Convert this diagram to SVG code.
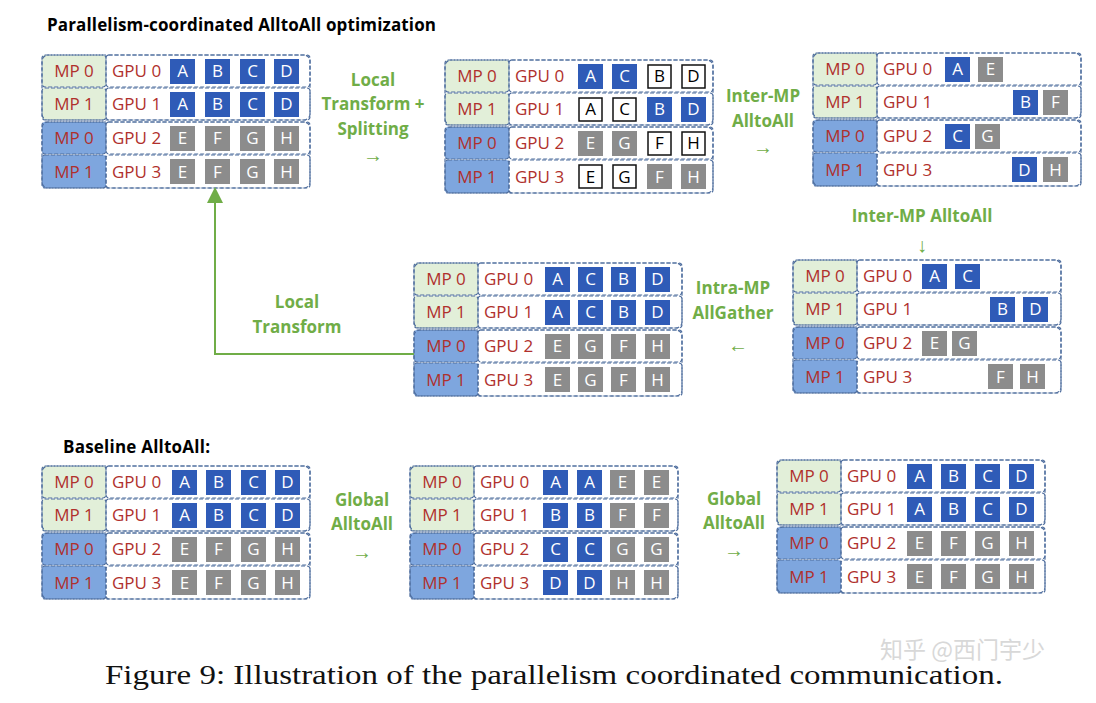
<svg xmlns="http://www.w3.org/2000/svg" xmlns:xlink="http://www.w3.org/1999/xlink" width="1096" height="703" viewBox="0 0 1096 703">
<style>
text{font-family:"Open Sans","Liberation Sans",sans-serif}
.mp{font-size:17px;fill:#B0302C;text-anchor:middle}
.gpu{font-size:17px;fill:#B0302C}
.dash{fill:none;stroke:#4F6E9E;stroke-width:1.2;stroke-dasharray:4 2}
.b{fill:#2F5BB7;width:25px;height:25px}
.g{fill:#8C8C8C;width:25px;height:25px}
.w{fill:#fff;stroke:#111;stroke-width:1.5;width:23px;height:23px}
.t{font-size:17px;fill:#fff;text-anchor:middle}
.k{font-size:17px;fill:#000;text-anchor:middle}
.lab{font-size:17px;font-weight:bold;fill:#70AD47;text-anchor:middle}
.arr{font-size:20px;font-weight:bold;fill:#70AD47;text-anchor:middle}
.ttl{font-size:17px;font-weight:bold;fill:#000}
</style>
<defs>
<g id="panel">
<rect x="0" y="0" width="64" height="32" rx="3" fill="#E2EFD9"/>
<rect x="0" y="33" width="64" height="32" rx="3" fill="#E2EFD9"/>
<rect x="0" y="67" width="64" height="32" rx="3" fill="#7EA6DE"/>
<rect x="0" y="100" width="64" height="33" rx="3" fill="#7EA6DE"/>
<rect x="0" y="0" width="64" height="32" rx="3" class="dash"/>
<rect x="0" y="33" width="64" height="32" rx="3" class="dash"/>
<rect x="0" y="67" width="64" height="32" rx="3" class="dash"/>
<rect x="0" y="100" width="64" height="33" rx="3" class="dash"/>
<rect x="64" y="0" width="204" height="32" rx="3" class="dash"/>
<rect x="64" y="33" width="204" height="32" rx="3" class="dash"/>
<rect x="64" y="67" width="204" height="32" rx="3" class="dash"/>
<rect x="64" y="100" width="204" height="33" rx="3" class="dash"/>
<rect x="0" y="0" width="268" height="65" rx="6" class="dash"/>
<rect x="0" y="67" width="268" height="66" rx="6" class="dash"/>
<text class="mp" x="32" y="22">MP 0</text>
<text class="mp" x="32" y="55">MP 1</text>
<text class="mp" x="32" y="89">MP 0</text>
<text class="mp" x="32" y="123">MP 1</text>
<text class="gpu" x="70" y="22">GPU 0</text>
<text class="gpu" x="70" y="55">GPU 1</text>
<text class="gpu" x="70" y="89">GPU 2</text>
<text class="gpu" x="70" y="123">GPU 3</text>
</g>
<marker id="ah" markerWidth="8" markerHeight="8" refX="4" refY="4" orient="auto"><path d="M0,0 L8,4 L0,8 z" fill="#70AD47"/></marker>
</defs>

<text class="ttl" x="47" y="31" textLength="389">Parallelism-coordinated AlltoAll optimization</text>
<text class="ttl" x="63" y="453" textLength="147">Baseline AlltoAll:</text>

<g id="p1" transform="translate(42,55)"><use xlink:href="#panel"/>
<rect class="b" x="128" y="4"/><text class="t" x="140.5" y="22">A</text>
<rect class="b" x="163" y="4"/><text class="t" x="175.5" y="22">B</text>
<rect class="b" x="198" y="4"/><text class="t" x="210.5" y="22">C</text>
<rect class="b" x="232" y="4"/><text class="t" x="244.5" y="22">D</text>
<rect class="b" x="128" y="37"/><text class="t" x="140.5" y="55">A</text>
<rect class="b" x="163" y="37"/><text class="t" x="175.5" y="55">B</text>
<rect class="b" x="198" y="37"/><text class="t" x="210.5" y="55">C</text>
<rect class="b" x="232" y="37"/><text class="t" x="244.5" y="55">D</text>
<rect class="g" x="128" y="71"/><text class="t" x="140.5" y="89">E</text>
<rect class="g" x="163" y="71"/><text class="t" x="175.5" y="89">F</text>
<rect class="g" x="198" y="71"/><text class="t" x="210.5" y="89">G</text>
<rect class="g" x="232" y="71"/><text class="t" x="244.5" y="89">H</text>
<rect class="g" x="128" y="104"/><text class="t" x="140.5" y="123">E</text>
<rect class="g" x="163" y="104"/><text class="t" x="175.5" y="123">F</text>
<rect class="g" x="198" y="104"/><text class="t" x="210.5" y="123">G</text>
<rect class="g" x="232" y="104"/><text class="t" x="244.5" y="123">H</text>
</g>

<g id="p2" transform="translate(445,60)"><use xlink:href="#panel"/>
<rect class="b" x="133" y="4"/><text class="t" x="145.5" y="22">A</text>
<rect class="b" x="167" y="4"/><text class="t" x="179.5" y="22">C</text>
<rect class="w" x="203" y="5"/><text class="k" x="214.5" y="22">B</text>
<rect class="w" x="237" y="5"/><text class="k" x="248.5" y="22">D</text>
<rect class="w" x="134" y="38"/><text class="k" x="145.5" y="55">A</text>
<rect class="w" x="168" y="38"/><text class="k" x="179.5" y="55">C</text>
<rect class="b" x="202" y="37"/><text class="t" x="214.5" y="55">B</text>
<rect class="b" x="236" y="37"/><text class="t" x="248.5" y="55">D</text>
<rect class="g" x="133" y="71"/><text class="t" x="145.5" y="89">E</text>
<rect class="g" x="167" y="71"/><text class="t" x="179.5" y="89">G</text>
<rect class="w" x="203" y="72"/><text class="k" x="214.5" y="89">F</text>
<rect class="w" x="237" y="72"/><text class="k" x="248.5" y="89">H</text>
<rect class="w" x="134" y="105"/><text class="k" x="145.5" y="123">E</text>
<rect class="w" x="168" y="105"/><text class="k" x="179.5" y="123">G</text>
<rect class="g" x="202" y="104"/><text class="t" x="214.5" y="123">F</text>
<rect class="g" x="236" y="104"/><text class="t" x="248.5" y="123">H</text>
</g>

<g id="p3" transform="translate(813,53)"><use xlink:href="#panel"/>
<rect class="b" x="132" y="4"/><text class="t" x="144.5" y="22">A</text>
<rect class="g" x="165" y="4"/><text class="t" x="177.5" y="22">E</text>
<rect class="b" x="200" y="37"/><text class="t" x="212.5" y="55">B</text>
<rect class="g" x="230" y="37"/><text class="t" x="242.5" y="55">F</text>
<rect class="b" x="132" y="71"/><text class="t" x="144.5" y="89">C</text>
<rect class="g" x="162" y="71"/><text class="t" x="174.5" y="89">G</text>
<rect class="b" x="199" y="104"/><text class="t" x="211.5" y="123">D</text>
<rect class="g" x="230" y="104"/><text class="t" x="242.5" y="123">H</text>
</g>

<g id="p4" transform="translate(793,260)"><use xlink:href="#panel"/>
<rect class="b" x="129" y="4"/><text class="t" x="141.5" y="22">A</text>
<rect class="b" x="162" y="4"/><text class="t" x="174.5" y="22">C</text>
<rect class="b" x="197" y="37"/><text class="t" x="209.5" y="55">B</text>
<rect class="b" x="230" y="37"/><text class="t" x="242.5" y="55">D</text>
<rect class="g" x="129" y="71"/><text class="t" x="141.5" y="89">E</text>
<rect class="g" x="159" y="71"/><text class="t" x="171.5" y="89">G</text>
<rect class="g" x="195" y="104"/><text class="t" x="207.5" y="123">F</text>
<rect class="g" x="227" y="104"/><text class="t" x="239.5" y="123">H</text>
</g>

<g id="p5" transform="translate(414,263)"><use xlink:href="#panel"/>
<rect class="b" x="131" y="4"/><text class="t" x="143.5" y="22">A</text>
<rect class="b" x="164" y="4"/><text class="t" x="176.5" y="22">C</text>
<rect class="b" x="197" y="4"/><text class="t" x="209.5" y="22">B</text>
<rect class="b" x="231" y="4"/><text class="t" x="243.5" y="22">D</text>
<rect class="b" x="131" y="37"/><text class="t" x="143.5" y="55">A</text>
<rect class="b" x="164" y="37"/><text class="t" x="176.5" y="55">C</text>
<rect class="b" x="197" y="37"/><text class="t" x="209.5" y="55">B</text>
<rect class="b" x="231" y="37"/><text class="t" x="243.5" y="55">D</text>
<rect class="g" x="131" y="71"/><text class="t" x="143.5" y="89">E</text>
<rect class="g" x="164" y="71"/><text class="t" x="176.5" y="89">G</text>
<rect class="g" x="197" y="71"/><text class="t" x="209.5" y="89">F</text>
<rect class="g" x="231" y="71"/><text class="t" x="243.5" y="89">H</text>
<rect class="g" x="131" y="104"/><text class="t" x="143.5" y="123">E</text>
<rect class="g" x="164" y="104"/><text class="t" x="176.5" y="123">G</text>
<rect class="g" x="197" y="104"/><text class="t" x="209.5" y="123">F</text>
<rect class="g" x="231" y="104"/><text class="t" x="243.5" y="123">H</text>
</g>

<g id="p6" transform="translate(42,466)"><use xlink:href="#panel"/>
<rect class="b" x="130" y="4"/><text class="t" x="142.5" y="22">A</text>
<rect class="b" x="164" y="4"/><text class="t" x="176.5" y="22">B</text>
<rect class="b" x="199" y="4"/><text class="t" x="211.5" y="22">C</text>
<rect class="b" x="233" y="4"/><text class="t" x="245.5" y="22">D</text>
<rect class="b" x="130" y="37"/><text class="t" x="142.5" y="55">A</text>
<rect class="b" x="164" y="37"/><text class="t" x="176.5" y="55">B</text>
<rect class="b" x="199" y="37"/><text class="t" x="211.5" y="55">C</text>
<rect class="b" x="233" y="37"/><text class="t" x="245.5" y="55">D</text>
<rect class="g" x="130" y="71"/><text class="t" x="142.5" y="89">E</text>
<rect class="g" x="164" y="71"/><text class="t" x="176.5" y="89">F</text>
<rect class="g" x="199" y="71"/><text class="t" x="211.5" y="89">G</text>
<rect class="g" x="233" y="71"/><text class="t" x="245.5" y="89">H</text>
<rect class="g" x="130" y="104"/><text class="t" x="142.5" y="123">E</text>
<rect class="g" x="164" y="104"/><text class="t" x="176.5" y="123">F</text>
<rect class="g" x="199" y="104"/><text class="t" x="211.5" y="123">G</text>
<rect class="g" x="233" y="104"/><text class="t" x="245.5" y="123">H</text>
</g>

<g id="p7" transform="translate(410,466)"><use xlink:href="#panel"/>
<rect class="b" x="133" y="4"/><text class="t" x="145.5" y="22">A</text>
<rect class="b" x="167" y="4"/><text class="t" x="179.5" y="22">A</text>
<rect class="g" x="200" y="4"/><text class="t" x="212.5" y="22">E</text>
<rect class="g" x="234" y="4"/><text class="t" x="246.5" y="22">E</text>
<rect class="b" x="133" y="37"/><text class="t" x="145.5" y="55">B</text>
<rect class="b" x="167" y="37"/><text class="t" x="179.5" y="55">B</text>
<rect class="g" x="200" y="37"/><text class="t" x="212.5" y="55">F</text>
<rect class="g" x="234" y="37"/><text class="t" x="246.5" y="55">F</text>
<rect class="b" x="133" y="71"/><text class="t" x="145.5" y="89">C</text>
<rect class="b" x="167" y="71"/><text class="t" x="179.5" y="89">C</text>
<rect class="g" x="200" y="71"/><text class="t" x="212.5" y="89">G</text>
<rect class="g" x="234" y="71"/><text class="t" x="246.5" y="89">G</text>
<rect class="b" x="133" y="104"/><text class="t" x="145.5" y="123">D</text>
<rect class="b" x="167" y="104"/><text class="t" x="179.5" y="123">D</text>
<rect class="g" x="200" y="104"/><text class="t" x="212.5" y="123">H</text>
<rect class="g" x="234" y="104"/><text class="t" x="246.5" y="123">H</text>
</g>

<g id="p8" transform="translate(777,460)"><use xlink:href="#panel"/>
<rect class="b" x="130" y="4"/><text class="t" x="142.5" y="22">A</text>
<rect class="b" x="164" y="4"/><text class="t" x="176.5" y="22">B</text>
<rect class="b" x="198" y="4"/><text class="t" x="210.5" y="22">C</text>
<rect class="b" x="232" y="4"/><text class="t" x="244.5" y="22">D</text>
<rect class="b" x="130" y="37"/><text class="t" x="142.5" y="55">A</text>
<rect class="b" x="164" y="37"/><text class="t" x="176.5" y="55">B</text>
<rect class="b" x="198" y="37"/><text class="t" x="210.5" y="55">C</text>
<rect class="b" x="232" y="37"/><text class="t" x="244.5" y="55">D</text>
<rect class="g" x="130" y="71"/><text class="t" x="142.5" y="89">E</text>
<rect class="g" x="164" y="71"/><text class="t" x="176.5" y="89">F</text>
<rect class="g" x="198" y="71"/><text class="t" x="210.5" y="89">G</text>
<rect class="g" x="232" y="71"/><text class="t" x="244.5" y="89">H</text>
<rect class="g" x="130" y="104"/><text class="t" x="142.5" y="123">E</text>
<rect class="g" x="164" y="104"/><text class="t" x="176.5" y="123">F</text>
<rect class="g" x="198" y="104"/><text class="t" x="210.5" y="123">G</text>
<rect class="g" x="232" y="104"/><text class="t" x="244.5" y="123">H</text>
</g>

<g id="connectors">
<path d="M414,354 H215 V195" fill="none" stroke="#70AD47" stroke-width="2" marker-end="url(#ah)"/>
</g>

<g id="labels">
<text class="lab" x="373" y="86">Local</text>
<text class="lab" x="373" y="110">Transform +</text>
<text class="lab" x="373" y="135">Splitting</text>
<text class="arr" x="373" y="162">→</text>
<text class="lab" x="763" y="102">Inter-MP</text>
<text class="lab" x="763" y="127">AlltoAll</text>
<text class="arr" x="763" y="154">→</text>
<text class="lab" x="922" y="222">Inter-MP AlltoAll</text>
<text class="arr" x="922" y="252">↓</text>
<text class="lab" x="733" y="294">Intra-MP</text>
<text class="lab" x="733" y="319">AllGather</text>
<text class="arr" x="738" y="352">←</text>
<text class="lab" x="297" y="308">Local</text>
<text class="lab" x="297" y="333">Transform</text>
<text class="lab" x="362" y="506">Global</text>
<text class="lab" x="362" y="530">AlltoAll</text>
<text class="arr" x="362" y="559">→</text>
<text class="lab" x="734" y="505">Global</text>
<text class="lab" x="734" y="529">AlltoAll</text>
<text class="arr" x="734" y="557">→</text>
</g>

<text x="880" y="658" font-size="23" fill="#D8D8D8" style="font-family:'Noto Sans CJK SC',sans-serif">知乎 @西门宇少</text>
<text x="105" y="684" font-size="27" fill="#111" textLength="898" lengthAdjust="spacingAndGlyphs" style="font-family:'Liberation Serif',serif">Figure 9: Illustration of the parallelism coordinated communication.</text>
</svg>
